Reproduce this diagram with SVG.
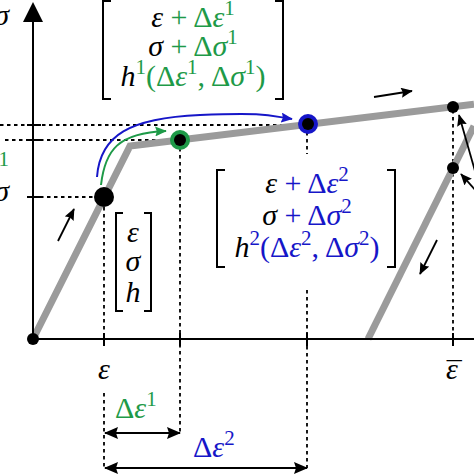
<svg xmlns="http://www.w3.org/2000/svg" width="474" height="474" viewBox="0 0 474 474" font-family="'Liberation Serif', 'Times New Roman', serif">
<style>
.ax{stroke:#000;stroke-width:2;fill:none}
.dash{stroke:#000;stroke-width:1.8;stroke-dasharray:3.5 3.5;fill:none}
.gray{stroke:#9b9b9b;stroke-width:7;fill:none}
.br{stroke:#000;stroke-width:2;fill:none}
.sa{stroke:#000;stroke-width:1.8;fill:none}
text{font-family:"Liberation Serif","Times New Roman",serif;font-size:30px;fill:#000}
.it{font-style:italic}
.up{font-style:normal}
.g{fill:#1e9a48}
.b{fill:#1616c8}
.sup{font-size:21px}
</style>
<defs>
<marker id="ah" markerUnits="userSpaceOnUse" viewBox="0 0 14 12" markerWidth="14" markerHeight="12" refX="13" refY="6" orient="auto-start-reverse"><path d="M0,0 L14,6 L0,12 L2,6 z" fill="#000"/></marker>
<marker id="ahs" markerUnits="userSpaceOnUse" viewBox="0 0 14 12" markerWidth="12" markerHeight="10" refX="13" refY="6" orient="auto"><path d="M0,0 L14,6 L0,12 L2,6 z" fill="#000"/></marker>
<marker id="ahb" markerUnits="userSpaceOnUse" viewBox="0 0 14 12" markerWidth="12" markerHeight="10" refX="13" refY="6" orient="auto"><path d="M0,0 L14,6 L0,12 L2,6 z" fill="#1616c8"/></marker>
<marker id="ahg" markerUnits="userSpaceOnUse" viewBox="0 0 14 12" markerWidth="12" markerHeight="10" refX="13" refY="6" orient="auto"><path d="M0,0 L14,6 L0,12 L2,6 z" fill="#1e9a48"/></marker>
</defs>

<g id="guides">
<path class="dash" d="M0,125 H301"/>
<path class="dash" d="M5,140 H173"/>
<path class="dash" d="M40,197 H96"/>
<path class="dash" d="M104,207 V339 M104,393 V470"/>
<path class="dash" d="M180,148 V433"/>
<path class="dash" d="M307,132 V154 M307,290 V468"/>
<path class="dash" d="M453,110 V339"/>
</g>

<g id="curves">
<path class="gray" d="M33,339 L130,146 L474,104.3"/>
<path class="gray" d="M368,339 L474,126"/>
</g>

<g id="axes">
<path class="ax" d="M33,339 V20"/>
<path d="M33,2 L23,22 L43,22 z" fill="#000"/>
<path class="ax" d="M33,339 H474"/>
<path class="ax" d="M27,125 H41 M27,140 H41 M27,197 H41"/>
<path class="ax" d="M104,333 V346 M180,333 V346 M307,333 V346 M453,333 V346"/>
</g>

<g id="connectors">
<path d="M97,177 C100,135 130,118 200,115 S270,116 292,119" stroke="#1616c8" stroke-width="2" fill="none" marker-end="url(#ahb)"/>
<path d="M101,185 C105,150 118,133 166,131" stroke="#1e9a48" stroke-width="2" fill="none" marker-end="url(#ahg)"/>
<path class="sa" d="M58,241 L74,209" marker-end="url(#ahs)"/>
<path class="sa" d="M374,97 L412,91" marker-end="url(#ahs)"/>
<path class="sa" d="M437,240 L420,274" marker-end="url(#ahs)"/>
<path class="sa" d="M477,178 L459,115" marker-end="url(#ahs)"/>
<path class="sa" d="M477,192 L461,174" marker-end="url(#ahs)"/>
<path class="sa" d="M105,433 L180,433" marker-start="url(#ah)" marker-end="url(#ah)"/>
<path class="sa" d="M105,468 L307,468" marker-start="url(#ah)" marker-end="url(#ah)"/>
</g>

<g id="points">
<circle cx="33" cy="339" r="6" fill="#000"/>
<circle cx="104" cy="197" r="10" fill="#000"/>
<circle cx="180" cy="140" r="10" fill="#1e9a48"/>
<circle cx="180" cy="140" r="6" fill="#000"/>
<circle cx="308" cy="124" r="10" fill="#1616c8"/>
<circle cx="308" cy="124" r="6" fill="#000"/>
<circle cx="453" cy="107" r="6" fill="#000"/>
<circle cx="453" cy="168" r="6" fill="#000"/>
</g>

<g id="axis-labels">
<text class="it" x="9" y="25" text-anchor="end">σ</text>
<text class="g sup" x="9" y="166" text-anchor="end">1</text>
<text class="it" x="9" y="201" text-anchor="end">σ</text>
<text class="it" x="104" y="379" text-anchor="middle">ε</text>
<text class="it" x="446" y="379">ε<tspan class="up" dx="-11" dy="3">¯</tspan></text>
<text x="115" y="418" class="g">Δ<tspan class="it">ε</tspan><tspan class="sup" dy="-12">1</tspan></text>
<text x="193" y="457" class="b">Δ<tspan class="it">ε</tspan><tspan class="sup" dy="-12">2</tspan></text>
</g>

<g id="state0">
<path class="br" d="M123,213 H116 V311 H123 M144,213 H151 V311 H144"/>
<text class="it" x="133" y="242" text-anchor="middle">ε</text>
<text class="it" x="133" y="271" text-anchor="middle">σ</text>
<text class="it" x="133" y="302" text-anchor="middle">h</text>
</g>

<g id="state1">
<path class="br" d="M111,1 H103 V99 H111 M275,1 H283 V99 H275"/>
<text x="193" y="27" text-anchor="middle"><tspan class="it">ε</tspan><tspan class="g"> + Δ</tspan><tspan class="g it">ε</tspan><tspan class="g sup" dy="-12">1</tspan></text>
<text x="193" y="56" text-anchor="middle"><tspan class="it">σ</tspan><tspan class="g"> + Δ</tspan><tspan class="g it">σ</tspan><tspan class="g sup" dy="-12">1</tspan></text>
<text x="193" y="86" text-anchor="middle"><tspan class="it">h</tspan><tspan class="g sup" dy="-12">1</tspan><tspan class="g" dy="12">(Δ</tspan><tspan class="g it">ε</tspan><tspan class="g sup" dy="-12">1</tspan><tspan class="g" dy="12">, Δ</tspan><tspan class="g it">σ</tspan><tspan class="g sup" dy="-12">1</tspan><tspan class="g" dy="12">)</tspan></text>
</g>

<g id="state2">
<path class="br" d="M225,170 H217 V267 H225 M387,170 H395 V267 H387"/>
<text x="307" y="193" text-anchor="middle"><tspan class="it">ε</tspan><tspan class="b"> + Δ</tspan><tspan class="b it">ε</tspan><tspan class="b sup" dy="-12">2</tspan></text>
<text x="307" y="225" text-anchor="middle"><tspan class="it">σ</tspan><tspan class="b"> + Δ</tspan><tspan class="b it">σ</tspan><tspan class="b sup" dy="-12">2</tspan></text>
<text x="307" y="257" text-anchor="middle"><tspan class="it">h</tspan><tspan class="b sup" dy="-12">2</tspan><tspan class="b" dy="12">(Δ</tspan><tspan class="b it">ε</tspan><tspan class="b sup" dy="-12">2</tspan><tspan class="b" dy="12">, Δ</tspan><tspan class="b it">σ</tspan><tspan class="b sup" dy="-12">2</tspan><tspan class="b" dy="12">)</tspan></text>
</g>
</svg>
